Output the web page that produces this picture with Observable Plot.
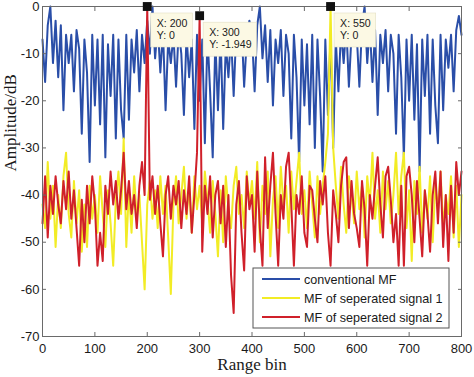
<!DOCTYPE html>
<html><head><meta charset="utf-8">
<script src="https://cdn.jsdelivr.net/npm/d3@7"></script>
<script src="https://cdn.jsdelivr.net/npm/@observablehq/plot@0.6"></script>
<style>
body{margin:0;background:#fff;}
#chart{width:474px;height:377px;}
</style></head><body><div id="chart"></div>
<script>
// Range bins are sampled every 5 bins from 0 to 800
const binStep = 5;

// conventional MF (blue)
const conventionalMF = [
 -7,-16,-4,0,-12,-3,-15,-4,-22,-6,-12,-6,-18,-5,-9,-27,-7,-14,-33,-6,
 -21,-7,-25,-6,-32,-8,-19,-6,-28,-7,-22,-28,-6,-24,-7,-14,-5,-18,-6,-12,
 -3,-10,0,-11,-4,-14,-5,-22,-7,-12,-6,-17,-5,-10,-23,-6,-15,-7,-26,-6,
 -20,-7,-29,-6,-18,-32,-7,-22,-6,-26,-8,-15,-6,-19,-5,-10,-4,-17,-7,-3,
 -6,-18,-4,0,-11,-4,-16,-5,-21,-7,-12,-5,-19,-6,-10,-28,-6,-15,-33,-7,
 -21,-8,-25,-6,-30,-7,-19,-35,-7,-23,-6,-30,-7,-18,-5,-12,-4,-17,-6,-3,
 -6,-17,-4,0,-12,-4,-16,-5,-23,-6,-12,-5,-18,-6,-10,-27,-6,-15,-32,-7,
 -20,-6,-24,-8,-35,-7,-19,-6,-27,-7,-21,-29,-6,-22,-7,-13,-6,-18,-5,-2,
 -6
];

// MF of separated signal 1 (yellow)
const separatedSignal1 = [
 -42,-47,-33,-45,-38,-51,-40,-47,-36,-31,-44,-49,-37,-46,-39,-52,-42,-51,-38,-45,
 -40,-48,-36,-44,-51,-39,-46,-55,-41,-35,-44,-28,-51,-39,-48,-36,-45,-40,-50,-60,
 -42,-37,-45,-39,-47,-36,-44,-38,-49,-61,-42,-36,-46,-40,-34,-45,-38,-48,-36,-43,
 -38,-46,-35,-41,-48,-37,-44,-53,-39,-50,-36,-43,-47,-38,-34,-44,-40,-47,-35,-42,
 -37,-45,-33,-50,-38,-44,-35,-53,-41,-36,-47,-34,-42,-38,-48,-35,-43,-37,-31,-44,
 -39,-47,-35,-42,-49,-36,-44,-38,-33,-27,0,-30,-38,-45,-34,-42,-48,-36,-40,-46,
 -35,-43,-38,-49,-36,-42,-31,-45,-39,-48,-35,-43,-37,-46,-40,-31,-44,-36,-31,-47,
 -39,-54,-37,-44,-34,-48,-39,-45,-36,-50,-38,-43,-35,-47,-40,-44,-36,-49,-38,-51,
 -40
];

// MF of separated signal 2 (red)
const separatedSignal2 = [
 -46,-36,-49,-38,-44,-36,-42,-46,-37,-43,-35,-45,-39,-47,-55,-41,-50,-38,-46,-36,
 -42,-55,-48,-54,-38,-44,-35,-42,-37,-45,-39,-31,-43,-37,-44,-40,-47,-38,-33,-40,
 0,-41,-36,-44,-38,-46,-53,-40,-36,-45,-38,-42,-37,-47,-39,-44,-36,-48,-40,-31,
 -1.949,-52,-38,-44,-36,-49,-40,-37,-46,-38,-51,-40,-57,-65,-42,-37,-48,-56,-36,-43,
 -40,-52,-35,-47,-55,-32,-47,-38,-31,-44,-55,-40,-45,-34,-31,-42,-55,-40,-44,-36,
 -48,-51,-38,-39,-45,-50,-37,-42,-36,-48,-55,-39,-44,-50,-38,-33,-32,-47,-37,-44,
 -47,-51,-37,-43,-55,-40,-45,-38,-32,-42,-49,-36,-34,-41,-50,-44,-55,-38,-55,-36,
 -34,-40,-50,-37,-45,-53,-39,-44,-52,-40,-35,-46,-35,-51,-40,-54,-38,-48,-33,-40,
 -35
];

const seriesNames = ["conventional MF", "MF of seperated signal 1", "MF of seperated signal 2"];
const seriesColors = ["#2a4ea8", "#f2ec25", "#d0202a"];

// data tips
const tipBins = [200, 300, 550];
const tipAmps = [0, -1.949, 0];

const xTicks = [0, 100, 200, 300, 400, 500, 600, 700, 800];
const yTicks = [0, -10, -20, -30, -40, -50, -60, -70];

const toRows = vals => vals.map((v, i) => ({bin: i * binStep, amp: v}));
const tips = tipBins.map((b, i) => ({bin: b, amp: tipAmps[i]}));

const axisColor = "#6a6a6a";
const sans = "'Liberation Sans', Arial, sans-serif";
const serif = "'Liberation Serif', 'Times New Roman', serif";

const plot = Plot.plot({
  width: 474, height: 377,
  marginLeft: 42, marginRight: 13, marginTop: 6, marginBottom: 41,
  style: {fontFamily: sans, fontSize: "13px", color: "#1a1a1a", background: "#fff"},
  x: {domain: [0, 800]},
  y: {domain: [-70, 0]},
  marks: [
    Plot.line(toRows(conventionalMF), {x: "bin", y: "amp", stroke: seriesColors[0], strokeWidth: 2}),
    Plot.line(toRows(separatedSignal1), {x: "bin", y: "amp", stroke: seriesColors[1], strokeWidth: 2}),
    Plot.line(toRows(separatedSignal2), {x: "bin", y: "amp", stroke: seriesColors[2], strokeWidth: 2}),
    Plot.frame({stroke: axisColor}),
    Plot.axisX({ticks: xTicks, tickSize: -4, tickPadding: 11, stroke: axisColor, label: null, tickFormat: d => String(d)}),
    Plot.axisX({anchor: "top", ticks: xTicks, tickSize: -4, stroke: axisColor, label: null, tickFormat: () => ""}),
    Plot.axisY({ticks: yTicks, tickSize: -4, tickPadding: 7, stroke: axisColor, label: null, tickFormat: d => String(d)}),
    Plot.axisY({anchor: "right", ticks: yTicks, tickSize: -4, stroke: axisColor, label: null, tickFormat: () => ""}),
    Plot.text(["Range bin"], {frameAnchor: "bottom", dy: 33, fontFamily: serif, fontSize: 17, fill: "#1a1a1a"}),
    Plot.text(["Amplitude/dB"], {frameAnchor: "left", dx: -32, rotate: -90, fontFamily: serif, fontSize: 17, fill: "#1a1a1a"}),
    Plot.dot(tips, {x: "bin", y: "amp", symbol: "square", r: 5, fill: "#111", stroke: "#111", strokeWidth: 0})
  ]
});

document.getElementById("chart").appendChild(plot);

// data tip boxes and legend, positioned with the plot's own scales
const svg = d3.select(plot);
const sx = plot.scale("x"), sy = plot.scale("y");

const tipLayer = svg.append("g").attr("text-anchor", "start");
tips.forEach(t => {
  const px = sx.apply(t.bin), py = sy.apply(t.amp);
  const g = tipLayer.append("g").attr("transform", `translate(${px + 4},${py + 7})`);
  const rect = g.append("rect").attr("fill", "#fcf9e4").attr("stroke", "#e3dfc4").attr("stroke-width", 0.6);
  const lines = ["X: " + t.bin, "Y: " + t.amp];
  const texts = g.selectAll("text").data(lines).join("text")
    .attr("x", 6).attr("y", (d, i) => 14 + i * 12)
    .attr("text-anchor", "start")
    .attr("font-family", sans).attr("font-size", 10.6).attr("fill", "#222")
    .text(d => d);
  let w = 0;
  texts.each(function() { w = Math.max(w, this.getComputedTextLength()); });
  rect.attr("width", Math.max(40, w + 11)).attr("height", 34);
});

const leg = svg.append("g").attr("transform", "translate(253,268)").attr("text-anchor", "start");
leg.append("rect").attr("width", 196).attr("height", 60).attr("fill", "#fff").attr("stroke", "#555").attr("stroke-width", 1);
seriesNames.forEach((name, i) => {
  const y = 11 + i * 19;
  leg.append("line").attr("x1", 9).attr("x2", 47).attr("y1", y).attr("y2", y)
    .attr("stroke", seriesColors[i]).attr("stroke-width", 2);
  leg.append("text").attr("x", 51).attr("y", y + 4.5).attr("text-anchor", "start")
    .attr("font-family", sans).attr("font-size", 12.6).attr("fill", "#1a1a1a").text(name);
});
</script>
</body></html>
